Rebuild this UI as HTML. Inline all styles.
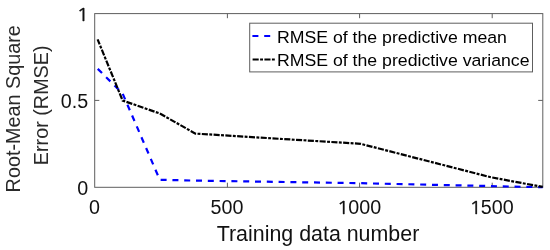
<!DOCTYPE html>
<html>
<head>
<meta charset="utf-8">
<style>
html,body{margin:0;padding:0;background:#fff;}
body{width:550px;height:250px;overflow:hidden;}
svg{display:block;}
text{font-family:"Liberation Sans",Arial,Helvetica,sans-serif;}
text.one{font-family:"NanumGothic","Liberation Sans",sans-serif;stroke:#111;stroke-width:0.3px;}
</style>
</head>
<body>
<svg width="550" height="250" viewBox="0 0 550 250">
<rect x="0" y="0" width="550" height="250" fill="#fff"/>
<!-- axes box -->
<g stroke="#5e5e5e" stroke-width="1" fill="none">
<rect x="94.7" y="13.6" width="448.1" height="173.7"/>
<path d="M227.4,187.3v-4.6 M359.6,187.3v-4.6 M492.2,187.3v-4.6 M227.4,13.6v4.6 M359.6,13.6v4.6 M492.2,13.6v4.6 M94.7,100.4h4.6 M542.8,100.4h-4.6"/>
</g>
<!-- data lines -->
<polyline fill="none" stroke="#0000ff" stroke-width="2.2" stroke-dasharray="6 5.8" stroke-dashoffset="10.74"
 points="97.0,68.1 122.6,93.5 159.8,179.8 195.4,180.6 360.6,183.2 491,186.1 542.7,187.2"/>
<polyline fill="none" stroke="#000" stroke-width="2.2" stroke-dasharray="6.1 1.4 2.9 1.4" stroke-dashoffset="0.68"
 points="97.6,39.4 122.6,100.5 159.8,113.5 195.4,133.6 360.6,143.8 491,177.3 542.7,186.9"/>
<!-- tick labels -->
<g font-size="19.7" fill="#111">
<text class="one" transform="translate(76.6,21.4) scale(1.12,1)" font-size="18.6">1</text>
<text x="88.2" y="108" text-anchor="end">0.5</text>
<text x="88.2" y="195.2" text-anchor="end">0</text>
<text x="94.6" y="213.5" text-anchor="middle">0</text>
<text x="227" y="213.5" text-anchor="middle">500</text>
<text class="one" transform="translate(336.8,213.5) scale(1.12,1)" font-size="18.6">1</text>
<text x="348.24" y="213.5">000</text>
<text class="one" transform="translate(469.3,213.5) scale(1.12,1)" font-size="18.6">1</text>
<text x="480.75" y="213.5">500</text>
</g>
<!-- axis labels -->
<text x="318" y="241" font-size="21.4" text-anchor="middle" fill="#111">Training data number</text>
<text transform="translate(19.8,192.4) rotate(-90)" font-size="19.8" fill="#2a2a2a">Root-Mean Square</text>
<text transform="translate(47.7,165.2) rotate(-90)" font-size="19.8" fill="#2a2a2a">Error (RMSE)</text>
<!-- legend -->
<rect x="249.7" y="23.2" width="282.8" height="48.7" fill="#fff" stroke="#5e5e5e" stroke-width="1"/>
<line x1="252.4" y1="36" x2="276" y2="36" stroke="#0000ff" stroke-width="2.2" stroke-dasharray="6 5.8"/>
<line x1="252.6" y1="59.5" x2="276" y2="59.5" stroke="#000" stroke-width="2.2" stroke-dasharray="6.1 1.4 2.9 1.4"/>
<g font-size="17.7">
<text transform="translate(276.9,42.7) scale(1,0.93)">RMSE of the predictive mean</text>
<text transform="translate(276.9,65.9) scale(1,0.93)">RMSE of the predictive variance</text>
</g>
</svg>
</body>
</html>
